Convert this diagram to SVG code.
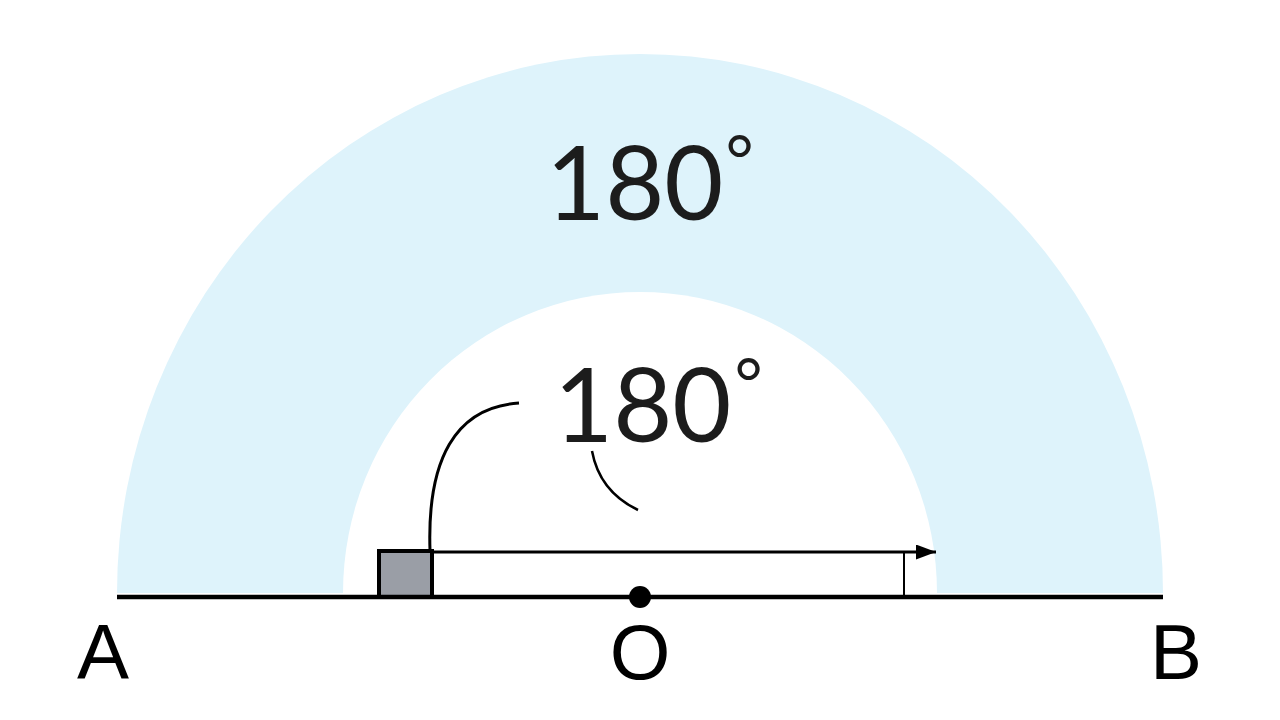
<svg xmlns="http://www.w3.org/2000/svg" width="1280" height="720" viewBox="0 0 1280 720">
<style>
.big{font-family:Lato,"DejaVu Sans",sans-serif;font-size:102px;fill:#1c1c1c}
.deg{font-size:68px}
.lbl{font-family:"Liberation Sans",Arial,sans-serif;font-size:78px;fill:#000}
.ln{fill:none;stroke:#000;stroke-linecap:butt}
</style>
<defs>
<marker id="ah" markerWidth="20" markerHeight="15" refX="20" refY="7.5" orient="auto" markerUnits="userSpaceOnUse" viewBox="0 0 20 15">
<path d="M0,0 L20,7.5 L0,15 Z" fill="#000"/>
</marker>
</defs>
<rect width="1280" height="720" fill="#fff"/>
<g id="band">
<path d="M117,593 A523,539 0 0 1 1163,593 Z" fill="#def3fb"/>
<path d="M343,593 A297,301 0 0 1 937,593 Z" fill="#fff"/>
</g>
<g id="label-outer"><text class="big" x="546" y="220">180<tspan class="deg" dx="2" dy="-36">°</tspan></text></g>
<g id="label-inner"><text class="big" x="554" y="442">180<tspan class="deg" dx="3" dy="-35">°</tspan></text></g>
<g id="connectors">
<path class="ln" stroke-width="3" d="M430,550 C427,460 455,407 519,403"/>
<path class="ln" stroke-width="2.5" d="M592,451 C597,478 613,498 638,510"/>
<line class="ln" stroke-width="3" x1="432" y1="552" x2="936" y2="552" marker-end="url(#ah)"/>
<line class="ln" stroke-width="2" x1="904" y1="552" x2="904" y2="597"/>
</g>
<g id="box"><rect x="379" y="551" width="53" height="46" fill="#9a9ea6" stroke="#000" stroke-width="4"/></g>
<g id="baseline"><line class="ln" stroke-width="4.5" x1="117" y1="597" x2="1163" y2="597"/></g>
<g id="point-O"><circle cx="640" cy="597" r="11" fill="#000"/></g>
<g id="label-A"><text class="lbl" x="77" y="679">A</text></g>
<g id="label-O"><text class="lbl" x="640" y="679" text-anchor="middle">O</text></g>
<g id="label-B"><text class="lbl" x="1150" y="679">B</text></g>
</svg>
